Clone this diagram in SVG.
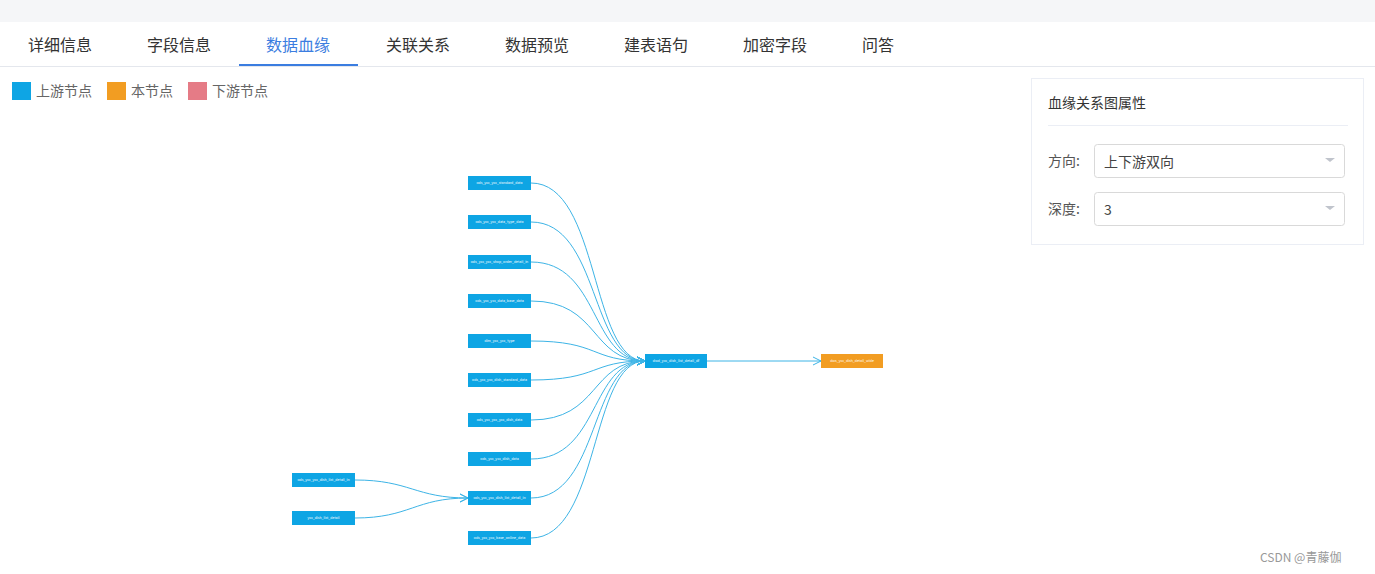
<svg xmlns="http://www.w3.org/2000/svg" width="1375" height="574" viewBox="0 0 1375 574">
<style>
text{font-family:"Noto Sans CJK SC","Noto Sans",sans-serif}
.tab{font-size:16px;fill:#333}
.up rect{fill:#0ea5e4}
.nl{font-size:3.5px;fill:#fff;text-anchor:middle}
.cur rect{fill:#f29d22}
.edge{fill:none;stroke:#3db4e6;stroke-width:1}
.lg{font-size:14px;fill:#666}
.sel{fill:#fff;stroke:#d9d9d9}
</style>
<defs><marker id="ar" markerWidth="10" markerHeight="10" refX="9" refY="5" orient="auto" markerUnits="userSpaceOnUse"><path d="M1,1 L9,5 L1,9" fill="none" stroke="#3db4e6"/></marker></defs>
<rect width="1375" height="574" fill="#fff"/>
<rect width="1375" height="22" fill="#f5f6f8"/>
<line x1="0" y1="66.5" x2="1375" y2="66.5" stroke="#e4e7ed"/>
<g id="tabs">
<text class="tab" x="28" y="51">详细信息</text>
<text class="tab" x="147" y="51">字段信息</text>
<text class="tab" x="266" y="51" fill="#3b7de0" style="fill:#3b7de0">数据血缘</text>
<text class="tab" x="386" y="51">关联关系</text>
<text class="tab" x="505" y="51">数据预览</text>
<text class="tab" x="624" y="51">建表语句</text>
<text class="tab" x="743" y="51">加密字段</text>
<text class="tab" x="862" y="51">问答</text>
<rect x="239" y="64" width="119" height="2" fill="#3b7de0"/>
</g>
<g id="legend">
<rect x="12" y="82" width="19" height="18" fill="#0ea5e4"/><text class="lg" x="36" y="96">上游节点</text>
<rect x="107" y="82" width="19" height="18" fill="#f29d22"/><text class="lg" x="131" y="96">本节点</text>
<rect x="188" y="82" width="19" height="18" fill="#e57b86"/><text class="lg" x="212" y="96">下游节点</text>
</g>
<g id="panel">
<rect x="1031.5" y="78.5" width="332" height="166" fill="#fff" stroke="#ebeef5"/>
<text x="1048" y="108" font-size="14" fill="#333">血缘关系图属性</text>
<line x1="1048" y1="125.5" x2="1348" y2="125.5" stroke="#ebeef5"/>
<text x="1048" y="166" font-size="14" fill="#555">方向:</text>
<rect class="sel" x="1094.5" y="144.5" width="250" height="33" rx="3"/>
<text x="1104" y="167" font-size="14" fill="#444">上下游双向</text>
<path d="M1325,158 l5,4 l5,-4z" fill="#c0c4cc"/>
<text x="1048" y="214" font-size="14" fill="#555">深度:</text>
<rect class="sel" x="1094.5" y="192.5" width="250" height="33" rx="3"/>
<text x="1104" y="215" font-size="14" fill="#444">3</text>
<path d="M1325,206 l5,4 l5,-4z" fill="#c0c4cc"/>
</g>
<g id="connectors">
<path class="edge" marker-end="url(#ar)" d="M531,183 C600,183 590,361 645,361"/>
<path class="edge" marker-end="url(#ar)" d="M531,222 C600,222 590,361 645,361"/>
<path class="edge" marker-end="url(#ar)" d="M531,262 C600,262 590,361 645,361"/>
<path class="edge" marker-end="url(#ar)" d="M531,301 C600,301 590,361 645,361"/>
<path class="edge" marker-end="url(#ar)" d="M531,341 C600,341 590,361 645,361"/>
<path class="edge" marker-end="url(#ar)" d="M531,380 C600,380 590,361 645,361"/>
<path class="edge" marker-end="url(#ar)" d="M531,420 C600,420 590,361 645,361"/>
<path class="edge" marker-end="url(#ar)" d="M531,459 C600,459 590,361 645,361"/>
<path class="edge" marker-end="url(#ar)" d="M531,498 C600,498 590,361 645,361"/>
<path class="edge" marker-end="url(#ar)" d="M531,538 C600,538 590,361 645,361"/>
<path class="edge" marker-end="url(#ar)" d="M707,361 L821,361"/>
<path class="edge" marker-end="url(#ar)" d="M355,480 C410,480 415,498 468,498"/>
<path class="edge" marker-end="url(#ar)" d="M355,518 C410,518 415,498 468,498"/>
</g>
<g id="n1" class="up"><rect x="468" y="176" width="63" height="14"/><text class="nl" x="499.5" y="184">ods_yxx_yxx_standard_data</text></g>
<g id="n2" class="up"><rect x="468" y="215" width="63" height="14"/><text class="nl" x="499.5" y="223">ods_yxx_yxx_data_type_data</text></g>
<g id="n3" class="up"><rect x="468" y="255" width="63" height="14"/><text class="nl" x="499.5" y="263">ods_yxx_yxx_shop_order_detail_in</text></g>
<g id="n4" class="up"><rect x="468" y="294" width="63" height="14"/><text class="nl" x="499.5" y="302">ods_yxx_yxx_data_base_data</text></g>
<g id="n5" class="up"><rect x="468" y="334" width="63" height="14"/><text class="nl" x="499.5" y="342">dim_yxx_yxx_type</text></g>
<g id="n6" class="up"><rect x="468" y="373" width="63" height="14"/><text class="nl" x="499.5" y="381">ods_yxx_yxx_dish_standard_data</text></g>
<g id="n7" class="up"><rect x="468" y="413" width="63" height="14"/><text class="nl" x="499.5" y="421">ods_yxx_yxx_yxx_dish_data</text></g>
<g id="n8" class="up"><rect x="468" y="452" width="63" height="14"/><text class="nl" x="499.5" y="460">ods_yxx_yxx_dish_data</text></g>
<g id="n9" class="up"><rect x="468" y="491" width="63" height="14"/><text class="nl" x="499.5" y="499">ods_yxx_yxx_dish_list_detail_in</text></g>
<g id="n10" class="up"><rect x="468" y="531" width="63" height="14"/><text class="nl" x="499.5" y="539">ods_yxx_yxx_base_online_data</text></g>
<g id="n11" class="up"><rect x="292" y="473" width="63" height="14"/><text class="nl" x="323.5" y="481">ods_yxx_yxx_dish_list_detail_in</text></g>
<g id="n12" class="up"><rect x="292" y="511" width="63" height="14"/><text class="nl" x="323.5" y="519">yxx_dish_list_detail</text></g>
<g id="n13" class="up"><rect x="645" y="354" width="62" height="14"/><text class="nl" x="676" y="362">dwd_yxx_dish_list_detail_df</text></g>
<g id="n14" class="cur"><rect x="821" y="354" width="62" height="14"/><text class="nl" x="852" y="362">dws_yxx_dish_detail_wide</text></g>
<text x="1260" y="562" font-size="12" fill="#999">CSDN @青藤伽</text>
</svg>
